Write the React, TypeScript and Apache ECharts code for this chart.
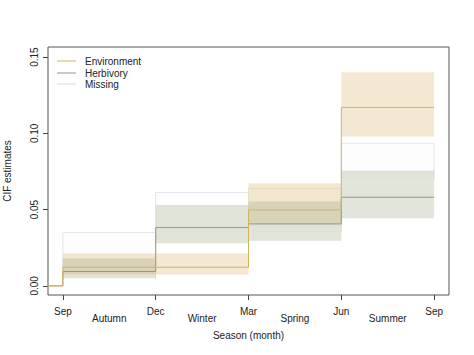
import React, { useEffect, useRef } from "react";
import * as echarts from "echarts";

const seasonBreaks = [0, 1, 2, 3, 4];
const monthLabels = ["Sep", "Dec", "Mar", "Jun", "Sep"];
const seasonMids = [0.5, 1.5, 2.5, 3.5];
const seasonLabels = ["Autumn", "Winter", "Spring", "Summer"];
const yTicks = [0, 0.05, 0.1, 0.15];

const envCif = [0.0122, 0.0122, 0.0498, 0.117];
const envLower = [0.0075, 0.0072, 0.0405, 0.0979];
const envUpper = [0.0214, 0.0214, 0.0673, 0.14];

const herbCif = [0.0094, 0.0382, 0.0406, 0.0581];
const herbLower = [0.005, 0.028, 0.0295, 0.0443];
const herbUpper = [0.018, 0.053, 0.0553, 0.0754];

const missLower = [0.004, 0.03, 0.035, 0.07];
const missUpper = [0.035, 0.0612, 0.064, 0.0935];

const legendNames = ["Environment", "Herbivory", "Missing"];
const FONT = "'Liberation Sans', Arial, Helvetica, sans-serif";
const ENV_LINE = "#d4b35e";
const HERB_LINE = "#959a7c";
const MISS_LINE = "#dcdcdc";

function stepData(vals: number[]) {
  const pts: number[][] = [[-0.3, 0]];
  vals.forEach((v, i) => pts.push([seasonBreaks[i], v]));
  pts.push([seasonBreaks[seasonBreaks.length - 1], vals[vals.length - 1]]);
  return pts;
}

function bandData(lo: number[], hi: number[]) {
  return lo.map((l, i) => [seasonBreaks[i], seasonBreaks[i + 1], l, hi[i]]);
}

function bandSeries(lo: number[], hi: number[], fill: string, stroke?: string) {
  return {
    type: "custom",
    silent: true,
    clip: true,
    data: bandData(lo, hi),
    renderItem: (params: any, api: any) => {
      const p0 = api.coord([api.value(0), api.value(3)]);
      const p1 = api.coord([api.value(1), api.value(2)]);
      const children: any[] = [
        {
          type: "rect",
          shape: { x: p0[0], y: p0[1], width: p1[0] - p0[0], height: p1[1] - p0[1] },
          style: { fill },
        },
      ];
      if (stroke) {
        children.push({
          type: "polyline",
          shape: { points: [[p0[0], p1[1]], [p0[0], p0[1]], [p1[0], p0[1]], [p1[0], p1[1]]] },
          style: { stroke, lineWidth: 1, fill: null },
        });
      }
      return { type: "group", children };
    },
  };
}

export default function App() {
  const ref = useRef<HTMLDivElement>(null);
  useEffect(() => {
    if (!ref.current) return;
    const chart = echarts.init(ref.current, null, { renderer: "svg" });
    const legendY = [61, 73, 84];
    const legendColors = [ENV_LINE, HERB_LINE, MISS_LINE];
    const graphic: any[] = [];
    legendNames.forEach((n, i) => {
      graphic.push({
        type: "line",
        shape: { x1: 57, y1: legendY[i], x2: 76, y2: legendY[i] },
        style: { stroke: legendColors[i], lineWidth: 1 },
      });
      graphic.push({
        type: "text",
        x: 85,
        y: legendY[i],
        style: { text: n, fontSize: 10, fontFamily: FONT, fill: "#222", verticalAlign: "middle" },
      });
    });
    chart.setOption({
      animation: false,
      grid: {
        left: 48, right: 25, top: 47, bottom: 60,
        outerBoundsMode: "none", containLabel: false,
        show: true, borderColor: "#555", borderWidth: 1, backgroundColor: "transparent",
      },
      xAxis: [
        {
          type: "value",
          min: -0.16,
          max: 4.16,
          position: "bottom",
          name: "Season (month)",
          nameLocation: "middle",
          nameGap: 35,
          nameTextStyle: { fontSize: 10, fontFamily: FONT, color: "#222" },
          splitLine: { show: false },
          axisLine: { show: false, onZero: false },
          axisTick: { show: true, customValues: seasonBreaks, length: 5, lineStyle: { color: "#444" } },
          axisLabel: {
            customValues: seasonBreaks,
            margin: 11,
            fontSize: 10,
            fontFamily: FONT,
            color: "#222",
            formatter: (v: number) => monthLabels[seasonBreaks.indexOf(Math.round(v))] ?? "",
          },
        },
        {
          type: "value",
          min: -0.16,
          max: 4.16,
          position: "bottom",
          splitLine: { show: false },
          axisLine: { show: false, onZero: false },
          axisTick: { show: false },
          axisLabel: {
            customValues: seasonMids,
            margin: 18,
            fontSize: 10,
            fontFamily: FONT,
            color: "#222",
            formatter: (v: number) => seasonLabels[seasonMids.indexOf(v)] ?? "",
          },
        },
      ],
      yAxis: {
        type: "value",
        min: -0.006,
        max: 0.1566,
        name: "CIF estimates",
        nameLocation: "middle",
        nameGap: 36,
        nameTextStyle: { fontSize: 10, fontFamily: FONT, color: "#222" },
        splitLine: { show: false },
        axisLine: { show: false, onZero: false },
        axisTick: { show: true, customValues: yTicks, length: 5, lineStyle: { color: "#444" } },
        axisLabel: {
          customValues: yTicks,
          rotate: 90,
          margin: 9,
          fontSize: 10,
          fontFamily: FONT,
          color: "#222",
          formatter: (v: number) => v.toFixed(2),
        },
      },
      series: [
        bandSeries(missLower, missUpper, "rgba(0,0,0,0.008)", "#e6e6e6"),
        bandSeries(envLower, envUpper, "rgba(220,180,110,0.3)"),
        bandSeries(herbLower, herbUpper, "rgba(150,160,120,0.28)"),
        {
          type: "line",
          step: "end",
          data: stepData(herbCif),
          showSymbol: false,
          symbol: "none",
          lineStyle: { color: HERB_LINE, width: 1 },
          clip: true,
        },
        {
          type: "line",
          step: "end",
          data: stepData(envCif),
          showSymbol: false,
          symbol: "none",
          lineStyle: { color: ENV_LINE, width: 1 },
          clip: true,
        },
      ],
      graphic,
    });
    return () => chart.dispose();
  }, []);
  return <div ref={ref} style={{ width: 474, height: 355, position: "absolute", left: 0, top: 0, background: "#fff" }} />;
}
